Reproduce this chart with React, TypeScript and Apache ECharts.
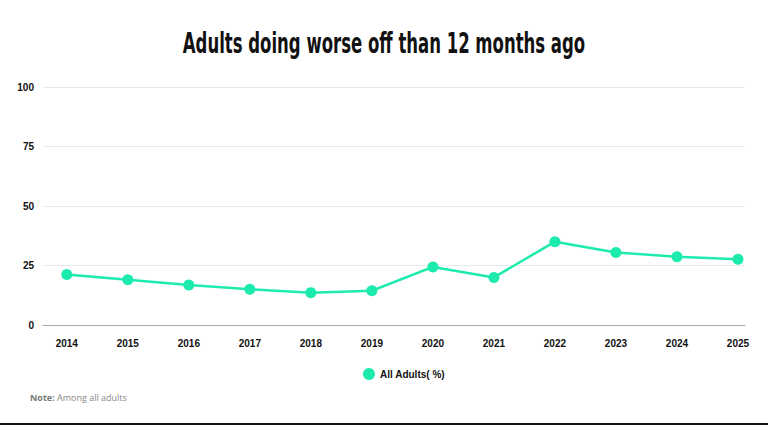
import React, { useEffect, useRef } from "react";
import * as echarts from "echarts";

const years = [2014, 2015, 2016, 2017, 2018, 2019, 2020, 2021, 2022, 2023, 2024, 2025];
const allAdults = [21.2, 19, 16.8, 15, 13.6, 14.4, 24.4, 20, 35, 30.5, 28.7, 27.6];
const yTicks = [0, 25, 50, 75, 100];
const titleText = "Adults doing worse off than 12 months ago";
const seriesName = "All Adults( %)";
const noteLabel = "Note:";
const noteText = " Among all adults";

const LABEL_FONT = "'Liberation Sans', Arial, sans-serif";
const GREEN = "#1DEBAE";

export default function App() {
  const ref = useRef<HTMLDivElement>(null);
  useEffect(() => {
    if (!ref.current) return;
    const chart = echarts.init(ref.current, null, { renderer: "svg" });
    chart.setOption({
      animation: false,
      backgroundColor: "#ffffff",
      graphic: [
        {
          type: "text",
          x: 384,
          y: 43,
          scaleX: 0.59,
          style: {
            text: titleText,
            font: "bold 28px 'DejaVu Sans', sans-serif",
            fill: "#111",
            align: "center",
            verticalAlign: "middle",
          },
        },
        {
          type: "text",
          left: 30,
          top: 393,
          style: {
            rich: {
              b: { fontWeight: "bold", fontSize: 9, fill: "#777", fontFamily: "'Open Sans', sans-serif" },
              n: { fontSize: 9, fill: "#888", fontFamily: "'Open Sans', sans-serif" },
            },
            text: `{b|${noteLabel}}{n|${noteText}}`,
          },
        },
        {
          type: "rect",
          shape: { x: 0, y: 423, width: 768, height: 2 },
          style: { fill: "#111" },
        },
      ],
      legend: {
        top: 363,
        left: 358,
        icon: "circle",
        itemWidth: 12,
        itemHeight: 12,
        itemGap: 8,
        textStyle: { fontFamily: LABEL_FONT, fontWeight: "bold", fontSize: 10, color: "#111" },
        data: [seriesName],
      },
      grid: { left: 43, right: 23, top: 87, bottom: 107 },
      xAxis: {
        type: "value",
        min: 2013.61,
        max: 2025.115,
        splitLine: { show: false },
        axisLine: { show: true, lineStyle: { color: "#aaaaaa", width: 1 } },
        axisTick: { show: false },
        axisLabel: {
          customValues: years,
          formatter: (v: number) => String(v),
          fontFamily: LABEL_FONT,
          fontWeight: "bold",
          fontSize: 10,
          color: "#111",
          margin: 13,
        },
      },
      yAxis: {
        type: "value",
        min: 0,
        max: 100,
        interval: 25,
        axisLine: { show: false },
        axisTick: { show: false },
        splitLine: { lineStyle: { color: "#e8e8e8", width: 1 } },
        axisLabel: {
          customValues: yTicks,
          fontFamily: LABEL_FONT,
          fontWeight: "bold",
          fontSize: 10,
          color: "#111",
          margin: 9,
        },
      },
      series: [
        {
          name: seriesName,
          type: "line",
          data: years.map((y, i) => [y, allAdults[i]]),
          symbol: "circle",
          symbolSize: 11,
          color: GREEN,
          lineStyle: { width: 2.5, color: GREEN },
          itemStyle: { color: GREEN },
        },
      ],
    });
    return () => chart.dispose();
  }, []);
  return (
    <div
      ref={ref}
      style={{ position: "absolute", left: 0, top: 0, width: 768, height: 432 }}
    />
  );
}
